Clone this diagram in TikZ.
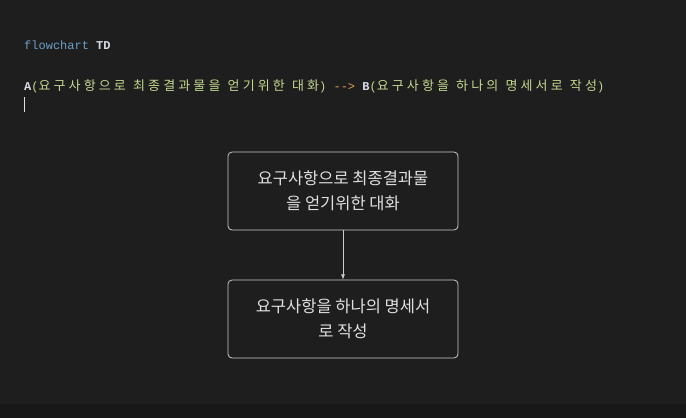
\documentclass[tikz,border=0pt]{standalone}
\usepackage{fontspec}
\setmainfont{Noto Sans CJK KR}
\setmonofont{Liberation Mono}
\newfontfamily\kor{Noto Sans CJK KR}
\newfontfamily\korcode[LetterSpace=24]{Noto Sans CJK KR}
\usetikzlibrary{positioning}
\definecolor{bgdark}{HTML}{1E1E1E}
\definecolor{bgstrip}{HTML}{181818}
\definecolor{boxline}{HTML}{CCCCCC}
\definecolor{boxtext}{HTML}{E0E0E0}
\definecolor{kwblue}{HTML}{6C9EC7}
\definecolor{strgreen}{HTML}{C3D88F}
\definecolor{arrorange}{HTML}{E0A050}
\definecolor{idwhite}{HTML}{D8DCE8}
\newcommand{\kc}[1]{{\korcode\fontsize{13}{14}\selectfont #1}}
\begin{document}
\begin{tikzpicture}[x=1pt,y=-1pt,
  flowbox/.style={draw=boxline,line width=0.8pt,fill=bgdark,rounded corners=4pt,
    minimum width=230pt,minimum height=78pt,align=center,
    text=boxtext,font=\fontsize{16.5}{25}\selectfont},
  codeline/.style={anchor=west,inner sep=0pt,font=\ttfamily\fontsize{12}{14}\selectfont}]
 \fill[bgdark](0,0) rectangle (686,418);
 \fill[bgstrip](0,404) rectangle (686,418);
 \useasboundingbox (0,0) rectangle (686,418);
 % code
 \node[codeline] (head) at (24,45) {\color{kwblue}flowchart \textbf{\color{idwhite}TD}};
 \node[codeline] (code) at (24,86) {\textbf{\color{idwhite}A}\color{strgreen}(\kc{요구사항으로} \kc{최종결과물을} \kc{얻기위한} \kc{대화}) \color{arrorange}--> \textbf{\color{idwhite}B}\color{strgreen}(\kc{요구사항을} \kc{하나의} \kc{명세서로} \kc{작성})};
 \draw[boxtext,line width=0.6pt] (24,97) -- (24,112);
 % diagram
 \node[flowbox] (A) at (343,191) {요구사항으로 최종결과물\\을 얻기위한 대화};
 \node[flowbox] (B) at (343,319) {요구사항을 하나의 명세서\\로 작성};
 \draw[boxline,line width=0.8pt,-latex] (A) -- (B);
\end{tikzpicture}
\end{document}
